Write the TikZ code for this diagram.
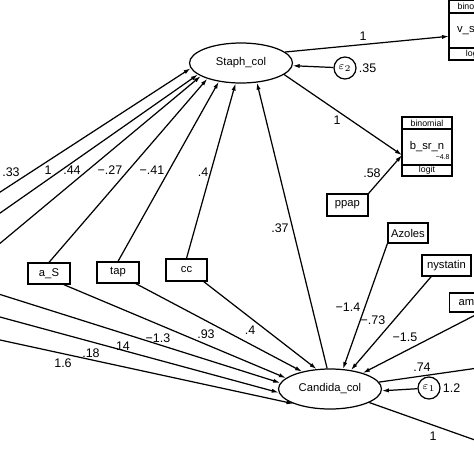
\documentclass[tikz,border=0pt]{standalone}
\usepackage{fontspec}
\setmainfont{Liberation Sans}
\usetikzlibrary{arrows.meta,calc,positioning,shapes.geometric}

\tikzset{
  latent/.style={ellipse, draw, minimum width=2.06cm, minimum height=0.8cm, inner sep=0pt, font=\fontsize{6.4}{7}\selectfont},
  obsbox/.style={rectangle, draw, minimum width=0.84cm, minimum height=0.42cm, inner sep=1pt, font=\fontsize{6.4}{7}\selectfont},
  errnode/.style={circle, draw, minimum size=0.44cm, inner sep=0pt, font=\fontsize{6}{7}\selectfont},
  coef/.style={inner sep=0pt, font=\fontsize{7.1}{8}\selectfont},
  indbox/.style={rectangle, draw, outer sep=0pt, minimum width=1cm, inner sep=0pt, font=\fontsize{6.4}{7}\selectfont},
  famrow/.style={rectangle, draw, outer sep=0pt, minimum width=1cm, inner sep=0pt, font=\fontsize{5}{6}\selectfont},
}

\begin{document}
\begin{tikzpicture}[x=0.02cm, y=-0.02cm, >={Latex[length=4pt,width=2.4pt]}, line width=0.7pt]
  \useasboundingbox (0,0) rectangle (474,474);
  \clip (0,0) rectangle (474,474);

  % latent variables and their errors
  \node[latent] (staph) at (241,63) {Staph\_col};
  \node[latent] (candida) at (330,389) {Candida\_col};
  \node[errnode] (e2) at (345,68) {$\varepsilon_2$};
  \node[errnode] (e1) at (429,388) {$\varepsilon_1$};
  \node[coef, right=1pt of e2] (v35) {.35};
  \node[coef, right=1pt of e1] (v12) {1.2};

  % observed covariates
  \node[obsbox] (aS) at (49,273.5) {a\_S};
  \node[obsbox] (tap) at (118,272.5) {tap};
  \node[obsbox, minimum width=0.82cm, minimum height=0.44cm] (cc) at (186.5,270) {cc};
  \node[obsbox, minimum width=0.82cm, minimum height=0.44cm] (ppap) at (347.5,205) {ppap};
  \node[obsbox, minimum width=0.8cm, minimum height=0.4cm] (azoles) at (408,233) {Azoles};
  \node[obsbox, minimum width=0.98cm] (nystatin) at (446.5,265.5) {nystatin};
  \node[obsbox, anchor=west, inner xsep=0.18cm, minimum height=0.38cm] (amph) at (449,302.5) {amphotericin};

  % binomial outcomes
  \node[indbox, minimum height=0.72cm] (bsr) at (427,147) {b\_sr\_n};
  \node[famrow, minimum height=0.24cm, above=0pt of bsr] (bsrfam) {binomial};
  \node[famrow, minimum height=0.22cm, below=0pt of bsr] (bsrlink) {logit};
  \node[anchor=south east, inner sep=0pt, xshift=-1pt, yshift=3pt, font=\fontsize{4}{5}\selectfont] (bsrcons) at (bsr.south east) {−4.8};

  \node[indbox, minimum height=0.7cm] (vsr) at (474,30.5) {v\_sr\_n};
  \node[famrow, minimum height=0.25cm, above=0pt of vsr] (vsrfam) {binomial};
  \node[famrow, minimum height=0.24cm, below=0pt of vsr] (vsrlink) {logit};

  % sources and targets outside the frame
  \coordinate (xa) at (-106,261);
  \coordinate (xb) at (-107,288);
  \coordinate (xc) at (-92,320);
  \coordinate (ind74) at (520,362);
  \coordinate (ind1) at (520,456);

  % paths to Staph_col
  \draw[->] (xa) -- (staph.186);
  \draw[->] (xb) -- (staph.195);
  \draw[->] (xc) -- (staph.198);
  \draw[->] (aS.north) -- (staph.205);
  \draw[->] (tap.north) -- (staph.220);
  \draw[->] (cc.north) -- (staph.255);
  \draw[->] (candida.98) -- (staph.309);
  \draw[->] (e2) -- (staph.357);
  \draw[->] (staph.14) -- (vsr.193);
  \draw[->] (staph.345) -- (bsr.198);
  \draw[->] (ppap.north east) -- (bsr.198);

  % paths to Candida_col
  \draw[->] (xa) -- (candida.173);
  \draw[->] (xb) -- (candida.184);
  \draw[->] (xc) -- (candida.202);
  \draw[->] (aS.323) -- (candida.166);
  \draw[->] (tap.328) -- (candida.148);
  \draw[->] (cc.326) -- (candida.124);
  \draw[->] (azoles.south west) -- (candida.57);
  \draw[->] (nystatin.216) -- (candida.42);
  \draw[->] ($(amph.south west)+(31,0)$) -- (candida.26);
  \draw[->] (e1) -- (candida.358);
  \draw[->] (candida.8) -- (ind74);
  \draw[->] (candida.341) -- (ind1);

  % coefficients
  \node[coef] (c33) at (11,172) {.33};
  \node[coef] (c1a) at (48,170) {1};
  \node[coef] (c44) at (72,170) {.44};
  \node[coef] (c27) at (110,170) {−.27};
  \node[coef] (c41) at (152,170) {−.41};
  \node[coef] (c4a) at (203,172) {.4};
  \node[coef] (c37) at (280,228) {.37};
  \node[coef] (c1b) at (363,36) {1};
  \node[coef] (c1c) at (337,120) {1};
  \node[coef] (c58) at (372,173) {.58};
  \node[coef] (c14a) at (348,307) {−1.4};
  \node[coef] (c73) at (373,320) {−.73};
  \node[coef] (c15) at (405,337) {−1.5};
  \node[coef] (c74) at (422,367) {.74};
  \node[coef] (c1d) at (433,436) {1};
  \node[coef] (c4b) at (250,330) {.4};
  \node[coef] (c93) at (206,334) {.93};
  \node[coef] (c13) at (158,338) {−1.3};
  \node[coef] (c14b) at (123,346) {14};
  \node[coef] (c18) at (91,353) {.18};
  \node[coef] (c16) at (63,363) {1.6};
\end{tikzpicture}
\end{document}
